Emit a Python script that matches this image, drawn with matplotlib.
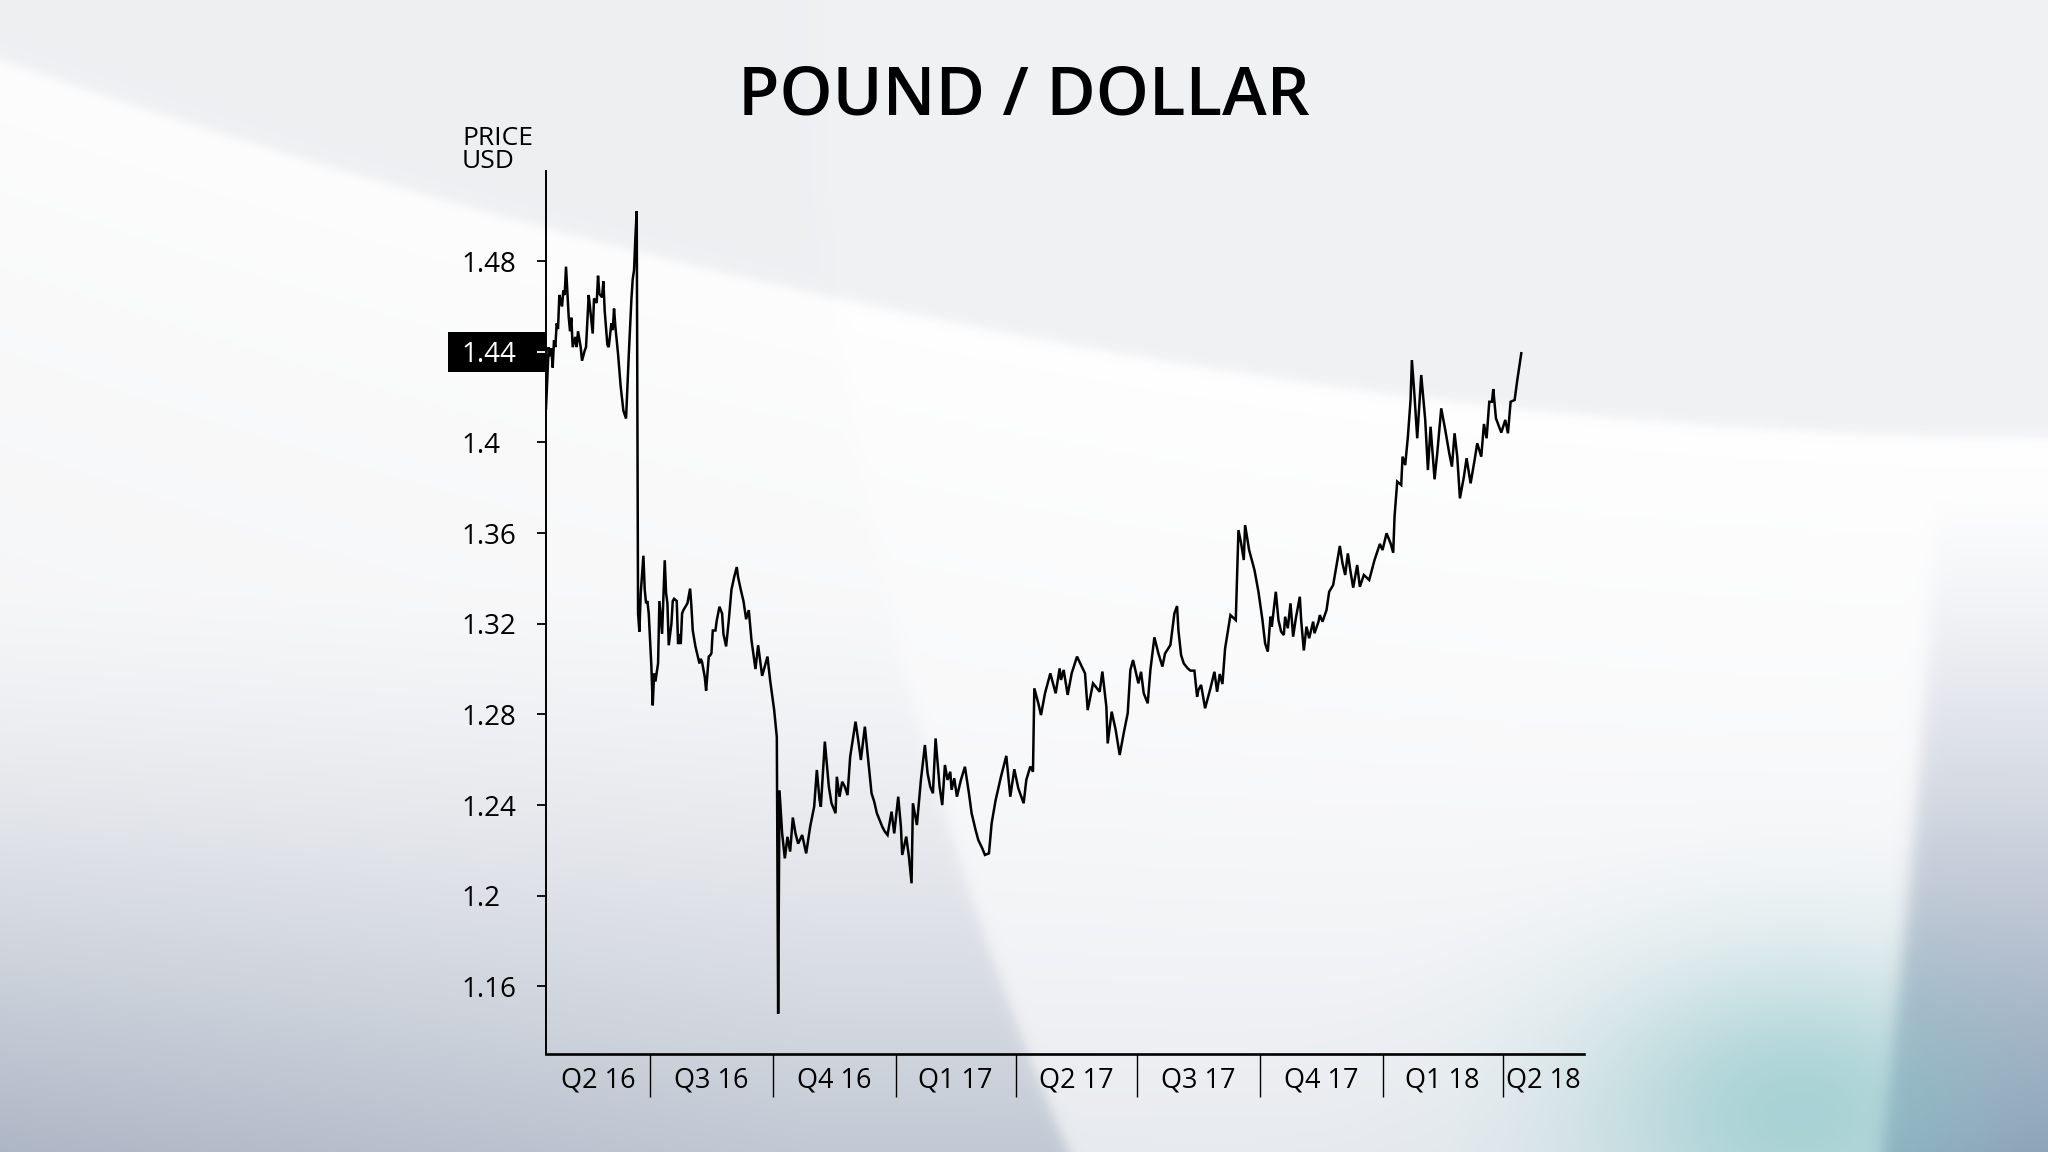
import numpy as np
import pandas as pd
import matplotlib
matplotlib.use("Agg")
import matplotlib.pyplot as plt
import matplotlib.transforms as mtransforms
from matplotlib.patches import Rectangle


# 1. Data
start_date = "2016-04-14"
end_date = "2018-06-01"

day_offsets = [
    0, 2, 3, 4, 5, 6, 7, 8, 9, 10, 11, 12, 13, 14, 15, 17, 18, 19, 20, 22,
    23, 24, 26, 27, 29, 30, 32, 33, 35, 36, 38, 39, 40, 42, 43, 44, 46, 47, 49, 50,
    51, 52, 54, 56, 58, 60, 61, 62, 64, 65, 66, 67, 68, 69, 70, 71, 73, 74, 75, 76,
    77, 79, 80, 81, 82, 84, 85, 87, 89, 90, 91, 92, 94, 95, 96, 98, 99, 100, 101, 102,
    103, 104, 106, 108, 109, 110, 112, 115, 116, 117, 119, 120, 122, 123, 124, 125, 127, 128, 130, 132,
    133, 135, 137, 139, 141, 143, 144, 146, 148, 150, 152, 154, 157, 159, 162, 166, 168, 171, 173, 174,
    175, 177, 179, 181, 183, 185, 187, 189, 192, 195, 198, 201, 203, 205, 206, 209, 212, 214, 217, 218,
    220, 222, 224, 226, 228, 232, 234, 236, 239, 242, 244, 246, 248, 252, 254, 256, 259, 261, 264, 266,
    267, 270, 272, 274, 275, 278, 281, 284, 286, 288, 290, 292, 295, 297, 299, 301, 303, 304, 306, 308,
    311, 314, 317, 319, 322, 324, 327, 329, 332, 334, 337, 341, 345, 348, 351, 354, 358, 360, 363, 365,
    366, 369, 371, 374, 378, 382, 385, 386, 388, 391, 394, 398, 401, 404, 406, 410, 413, 415, 417, 420,
    421, 424, 427, 430, 433, 436, 438, 440, 444, 446, 448, 451, 453, 456, 459, 462, 464, 468, 471, 473,
    474, 476, 478, 481, 483, 486, 488, 489, 491, 494, 498, 501, 503, 505, 507, 509, 513, 517, 519, 521,
    523, 524, 527, 531, 534, 537, 539, 541, 543, 544, 547, 549, 551, 553, 554, 556, 558, 560, 562, 565,
    566, 568, 570, 572, 575, 576, 579, 580, 582, 585, 587, 590, 595, 597, 599, 601, 603, 605, 608, 610,
    613, 617, 621, 625, 627, 630, 633, 635, 636, 638, 641, 642, 644, 646, 648, 649, 651, 653, 656, 659,
    661, 663, 666, 668, 671, 674, 677, 679, 681, 683, 685, 688, 690, 693, 696, 698, 701, 703, 705, 707,
    709, 710, 712, 716, 719, 721, 723, 726, 728, 731,
]

prices = [
    1.415, 1.442, 1.438, 1.4415, 1.433, 1.445, 1.442, 1.4525, 1.450, 1.465,
    1.463, 1.460, 1.467, 1.465, 1.4775, 1.4555, 1.449, 1.455, 1.442, 1.4465,
    1.442, 1.449, 1.442, 1.436, 1.4405, 1.442, 1.465, 1.4595, 1.448, 1.4635,
    1.4615, 1.4735, 1.4655, 1.464, 1.471, 1.458, 1.443, 1.442, 1.4525, 1.4495,
    1.459, 1.451, 1.439, 1.4245, 1.414, 1.4105, 1.4245, 1.438, 1.463, 1.472,
    1.476, 1.4905, 1.502, 1.3245, 1.3165, 1.3335, 1.350, 1.335, 1.329, 1.330,
    1.3245, 1.301, 1.284, 1.298, 1.2945, 1.3025, 1.330, 1.3155, 1.348, 1.3335,
    1.329, 1.3105, 1.320, 1.330, 1.331, 1.330, 1.311, 1.3155, 1.311, 1.3245,
    1.326, 1.327, 1.329, 1.3355, 1.3275, 1.317, 1.310, 1.3025, 1.3045, 1.303,
    1.2965, 1.2905, 1.3055, 1.306, 1.307, 1.317, 1.317, 1.3215, 1.3275, 1.3245,
    1.3155, 1.310, 1.3215, 1.335, 1.3405, 1.345, 1.3405, 1.335, 1.330, 1.322,
    1.326, 1.3128, 1.300, 1.3105, 1.297, 1.3055, 1.295, 1.282, 1.270, 1.148,
    1.2465, 1.2275, 1.2165, 1.226, 1.2195, 1.2345, 1.2275, 1.223, 1.2268, 1.2187,
    1.2305, 1.2393, 1.2555, 1.2423, 1.2393, 1.268, 1.2481, 1.2408, 1.2364, 1.2525,
    1.2437, 1.2503, 1.2481, 1.2444, 1.2614, 1.2768, 1.2687, 1.2599, 1.2746, 1.2569,
    1.2452, 1.2415, 1.2364, 1.2305, 1.2283, 1.2268, 1.2371, 1.2275, 1.2437, 1.2305,
    1.218, 1.2261, 1.2173, 1.2055, 1.2408, 1.2312, 1.2511, 1.2665, 1.254, 1.2481,
    1.2452, 1.2694, 1.2481, 1.240, 1.2577, 1.2511, 1.2547, 1.2467, 1.2518, 1.2437,
    1.2511, 1.2569, 1.2452, 1.2364, 1.229, 1.2246, 1.2209, 1.218, 1.2187, 1.2319,
    1.2422, 1.2525, 1.2617, 1.2437, 1.2558, 1.2474, 1.2408, 1.2511, 1.257, 1.2547,
    1.2915, 1.2849, 1.2797, 1.2893, 1.2981, 1.2893, 1.3003, 1.2952, 1.2996, 1.2886,
    1.2981, 1.3055, 1.3018, 1.2981, 1.2819, 1.2937, 1.2915, 1.290, 1.2989, 1.2834,
    1.2672, 1.2812, 1.2731, 1.2621, 1.2717, 1.2805, 1.2996, 1.304, 1.2937, 1.2988,
    1.2893, 1.2849, 1.2996, 1.314, 1.3069, 1.3011, 1.3069, 1.3106, 1.3246, 1.3278,
    1.3172, 1.3062, 1.3025, 1.3003, 1.2993, 1.2993, 1.2878, 1.2908, 1.293, 1.2827,
    1.2915, 1.2988, 1.290, 1.2978, 1.2934, 1.3091, 1.3238, 1.3216, 1.3613, 1.3555,
    1.3481, 1.3635, 1.3525, 1.3437, 1.3341, 1.3216, 1.3113, 1.3077, 1.3231, 1.3187,
    1.3341, 1.3216, 1.3165, 1.315, 1.3231, 1.318, 1.329, 1.3143, 1.3224, 1.3319,
    1.3216, 1.3082, 1.3187, 1.3136, 1.3209, 1.3158, 1.3209, 1.3238, 1.3209, 1.326,
    1.3341, 1.3371, 1.3543, 1.3466, 1.3415, 1.351, 1.343, 1.3359, 1.3459, 1.3363,
    1.3415, 1.3393, 1.3481, 1.3552, 1.3525, 1.3599, 1.3555, 1.3513, 1.3672, 1.3827,
    1.3812, 1.3937, 1.390, 1.4025, 1.4187, 1.4363, 1.4201, 1.4018, 1.4297, 1.4099,
    1.3878, 1.4069, 1.3837, 1.3952, 1.415, 1.4055, 1.3952, 1.3893, 1.404, 1.3937,
    1.3753, 1.3849, 1.393, 1.3819, 1.3922, 1.3996, 1.3937, 1.4081, 1.4018, 1.4179,
    1.4179, 1.4235, 1.4106, 1.4043, 1.4099, 1.404, 1.4179, 1.4187, 1.4275, 1.4393,
]

y_ticks = [1.16, 1.2, 1.24, 1.28, 1.32, 1.36, 1.4, 1.44, 1.48]
y_tick_labels = ["1.16", "1.2", "1.24", "1.28", "1.32", "1.36", "1.4", "1.44", "1.48"]
highlight_price = 1.44

quarter_starts = ["2016-07-01", "2016-10-01", "2017-01-01", "2017-04-01",
                  "2017-07-01", "2017-10-01", "2018-01-01", "2018-04-01"]
quarter_labels = ["Q2 16", "Q3 16", "Q4 16", "Q1 17", "Q2 17",
                  "Q3 17", "Q4 17", "Q1 18", "Q2 18"]

title = "POUND / DOLLAR"
unit_label = "PRICE\nUSD"


# 2. Dates
start = pd.Timestamp(start_date)
end = pd.Timestamp(end_date)
dates = start + pd.to_timedelta(day_offsets, unit="D")

q_edges = [start] + [pd.Timestamp(q) for q in quarter_starts] + [end]
q_mids = [a + (b - a) / 2 for a, b in zip(q_edges[:-1], q_edges[1:])]


# 3. Fonts
plt.rcParams["font.family"] = ["Open Sans", "DejaVu Sans"]


# 4. Figure and background
fig = plt.figure(figsize=(20.48, 11.52), dpi=100)

H, W = 1152, 2048
yy, xx = np.mgrid[0:H, 0:W].astype(float)


def sig(z):
    return 1.0 / (1.0 + np.exp(-z))


bg = np.empty((H, W, 3))
bg[:] = [0.937, 0.941, 0.949]

# white swoosh across the top
t = xx / W
ytop = 59 + 378 * (1 - (1 - t) ** 1.9)
w = sig((yy - ytop) / 3.0) * np.exp(-np.clip(yy - ytop, 0, None) / 800.0)
bg = bg * (1 - w[..., None]) + np.array([0.992, 0.992, 0.994]) * w[..., None]

# faint big arc through the upper middle
x0 = 820 + 250 * (yy / H) ** 2
arc = sig((xx - x0) / 4.0) * 0.006
bg = bg + arc[..., None]

# darker bottom left, behind the big arc
left = sig((x0 - xx) / 4.0)
sl = np.clip((yy - 580) / 572, 0, 1) ** 1.5 * (0.7 + 0.3 * np.clip(1 - xx / 816, 0, 1))
a = (left * sl)[..., None]
bg = bg * (1 - a) + np.array([0.68, 0.715, 0.775]) * a

# slight shade at the bottom middle
x2 = 1950 - 70 * (yy / H) ** 2
right = sig((xx - x2) / 5.0)
sm = (1 - left) * (1 - right) * np.clip((yy - 650) / 502, 0, 1) ** 2 * 0.35
bg = bg * (1 - sm[..., None]) + np.array([0.80, 0.83, 0.87]) * sm[..., None]

# blue-grey on the right edge
sr = right * np.clip((yy - 480) / 672, 0, 1) ** 1.4
bg = bg * (1 - sr[..., None]) + np.array([0.56, 0.61, 0.71]) * sr[..., None]

# teal glow at bottom right
g = 0.7 * np.exp(-(((xx - 1800) / 220) ** 2 + ((yy - 1110) / 150) ** 2))
bg = bg * (1 - g[..., None]) + np.array([0.55, 0.78, 0.79]) * g[..., None]

ax_bg = fig.add_axes([0, 0, 1, 1], zorder=-1)
ax_bg.imshow(np.clip(bg, 0, 1), aspect="auto", interpolation="bilinear")
ax_bg.axis("off")


# 5. Main chart
ax = fig.add_axes([546 / W, 1 - 1054 / H, 1038 / W, 883 / H])
ax.set_facecolor("none")

ax.plot(dates, prices, color="black", linewidth=1.8, solid_joinstyle="miter")

ax.set_xlim(start, end)
ax.set_ylim(1.1302, 1.5197)

for side in ["top", "right"]:
    ax.spines[side].set_visible(False)
ax.spines["left"].set_linewidth(1.4)
ax.spines["bottom"].set_linewidth(1.9)

# y axis: left aligned labels
ax.set_yticks(y_ticks)
ax.set_yticklabels(y_tick_labels)
ax.tick_params(axis="y", length=6.5, width=1.3, pad=54.7, labelsize=20)
for lbl in ax.get_yticklabels():
    lbl.set_ha("left")
    lbl.set_fontweight("medium")

# highlighted 1.44 label
box = Rectangle((-0.0944, highlight_price - 0.0088), 0.0944, 0.0176,
                transform=mtransforms.blended_transform_factory(ax.transAxes, ax.transData),
                facecolor="black", edgecolor="none", clip_on=False, zorder=1)
ax.add_patch(box)
for tick, v in zip(ax.yaxis.get_major_ticks(), y_ticks):
    if v == highlight_price:
        tick.label1.set_color("white")
        tick.tick1line.set_markeredgecolor("white")

# x axis: quarter separators and labels in between
ax.set_xticks([pd.Timestamp(q) for q in quarter_starts])
ax.set_xticklabels([""] * len(quarter_starts))
ax.set_xticks(q_mids, minor=True)
ax.set_xticklabels(quarter_labels, minor=True, fontweight="medium")
ax.tick_params(axis="x", which="major", length=31, width=1.0, direction="out")
ax.tick_params(axis="x", which="minor", length=0, pad=9, labelsize=19.5)


# 6. Texts
fig.text(0.5, 1 - 97 / H, title, ha="center", va="center",
         fontsize=48.5, fontweight="semibold")
fig.text(462 / W, 1 - 126 / H, unit_label, ha="left", va="top",
         fontsize=19, fontweight="medium", linespacing=0.88)


# 7. Save
fig.savefig("out.png", dpi=100)
plt.close(fig)
